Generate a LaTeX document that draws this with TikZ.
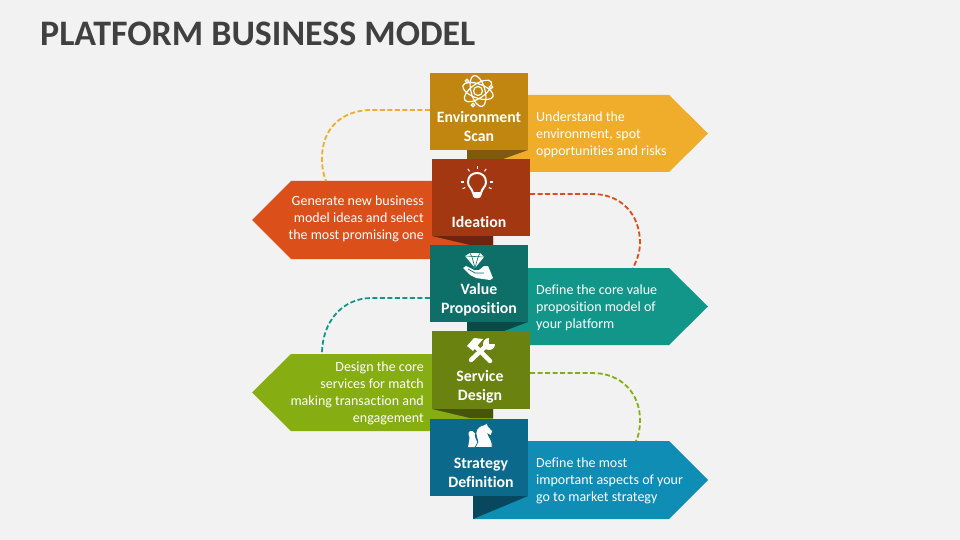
\documentclass[tikz,border=0pt]{standalone}
\usepackage{fontspec}
\setmainfont[Ligatures=NoCommon]{Carlito}
\definecolor{bgcol}{HTML}{F2F2F2}
\definecolor{titlecol}{HTML}{404040}
\definecolor{yelbox}{HTML}{C1860F}
\definecolor{yelarr}{HTML}{F0AC2B}
\definecolor{yelfold}{HTML}{7E5A0B}
\definecolor{redbox}{HTML}{A23712}
\definecolor{redarr}{HTML}{DA4F1A}
\definecolor{redfold}{HTML}{6C2410}
\definecolor{tealbox}{HTML}{0E6E68}
\definecolor{tealarr}{HTML}{13968A}
\definecolor{tealfold}{HTML}{0A4946}
\definecolor{grnbox}{HTML}{6A8210}
\definecolor{grnarr}{HTML}{86AD12}
\definecolor{grnfold}{HTML}{465508}
\definecolor{blubox}{HTML}{0B6A8B}
\definecolor{bluarr}{HTML}{0F8DB5}
\definecolor{blufold}{HTML}{08485E}
\begin{document}
\begin{tikzpicture}[x=1pt, y=-1pt]
  \tikzstyle{box}=[inner sep=0pt, minimum width=98pt, minimum height=77pt]
  \tikzstyle{boxtext}=[text=white, align=center, font=\fontsize{15.8}{19}\selectfont\bfseries]
  \tikzstyle{desc}=[text=white, inner sep=0pt, font=\fontsize{14}{17}\selectfont]
  \tikzstyle{link}=[line width=1.8pt, dash pattern=on 5pt off 2.5pt]
  \tikzstyle{ico}=[draw=white, line width=1.2pt]
  \fill[bgcol] (0,0) rectangle (960,540);
  \useasboundingbox (0,0) rectangle (960,540);
  \node[anchor=west, inner sep=0pt, text=titlecol, font=\fontsize{35.9}{40}\selectfont\bfseries] (title) at (40,34) {PLATFORM BUSINESS MODEL};
  % side arrows
  \fill[yelarr] (467,95) -- (669,95) -- (708,133.5) -- (669,172) -- (467,172) -- cycle;
  \fill[redarr] (493,181) -- (291,181) -- (252,220) -- (291,259) -- (493,259) -- cycle;
  \fill[tealarr] (467,268) -- (669,268) -- (708,306.5) -- (669,345) -- (467,345) -- cycle;
  \fill[grnarr] (493,354) -- (291,354) -- (252,392.5) -- (291,431) -- (493,431) -- cycle;
  \fill[bluarr] (473,441) -- (669,441) -- (708,480) -- (669,519) -- (473,519) -- cycle;
  % folds
  \fill[yelfold] (467,150) -- (528,150) -- (467,172) -- cycle;
  \fill[redfold] (432,236) -- (493,236) -- (493,245) -- (470,245) -- cycle;
  \fill[tealfold] (467,322) -- (528,322) -- (467,345) -- cycle;
  \fill[grnfold] (432,409) -- (493,409) -- (493,418) -- (470,418) -- cycle;
  \fill[blufold] (473,496) -- (528,496) -- (473,519) -- cycle;
  % boxes
  \node[box, fill=yelbox] (envbox) at (479,111.5) {};
  \node[box, fill=redbox] (ideabox) at (481,197.5) {};
  \node[box, fill=tealbox] (valuebox) at (479,283.5) {};
  \node[box, fill=grnbox, minimum height=78pt] (servbox) at (481,370) {};
  \node[box, fill=blubox] (stratbox) at (479,457.5) {};
  \node[boxtext] (envtext) at (479,126.5) {Environment\\Scan};
  \node[boxtext] (ideatext) at (479,222) {Ideation};
  \node[boxtext] (valuetext) at (479,300) {Value\\Proposition};
  \node[boxtext] (servtext) at (480,386.5) {Service\\Design};
  \node[boxtext] (strattext) at (481,473) {Strategy\\Definition};
  % descriptions
  \node[desc, anchor=west, align=left] (envdesc) at (536,134.5) {Understand the\\environment, spot\\opportunities and risks};
  \node[desc, anchor=east, align=right] (ideadesc) at (424,218.5) {Generate new business\\model ideas and select\\the most promising one};
  \node[desc, anchor=west, align=left] (valuedesc) at (536,307.5) {Define the core value\\proposition model of\\your platform};
  \node[desc, anchor=east, align=right] (servdesc) at (424,393) {Design the core\\services for match\\making transaction and\\engagement};
  \node[desc, anchor=west, align=left] (stratdesc) at (536,480.5) {Define the most\\important aspects of your\\go to market strategy};
  % dashed links
  \coordinate (envend) at (326,181);
  \coordinate (ideaend) at (633,268);
  \coordinate (valueend) at (322,354);
  \coordinate (servend) at (636,441);
  \draw[link, yelarr] (envbox.west |- 0,110) -- (372,110) .. controls (340,110) and (322,130) .. (322,158) .. controls (322,166) and (323,174) .. (envend);
  \draw[link, redarr] (ideabox.east |- 0,194) -- (592,194) .. controls (622,194) and (640,215) .. (640,243) .. controls (640,252) and (637,260) .. (ideaend);
  \draw[link, tealarr] (valuebox.west |- 0,298) -- (372,298) .. controls (342,298) and (322,322) .. (valueend);
  \draw[link, grnarr] (servbox.east |- 0,373) -- (592,373) .. controls (622,373) and (640,394) .. (640,420) .. controls (640,428) and (639,435) .. (servend);
  % atom
  \draw[ico, rotate around={35:(478,91)}] (478,91) ellipse (16pt and 7pt);
  \draw[ico, rotate around={-20:(478,91)}] (478,91) ellipse (16pt and 7pt);
  \draw[ico, rotate around={-75:(478,91)}] (478,91) ellipse (16pt and 7pt);
  \draw[ico] (478,91) circle (4.5pt);
  \draw[ico, fill=yelbox] (467,81) circle (1.8pt) (491,87) circle (1.8pt) (473,105) circle (1.8pt);
  % bulb
  \draw[ico, line width=2pt] (473,193) .. controls (472,188) and (468,187) .. (468,182) .. controls (468,170) and (486,170) .. (486,182) .. controls (486,187) and (482,188) .. (481,193) -- cycle;
  \fill[white] (472.5,192) -- (481.5,192) -- (481.5,195) .. controls (481.5,199.5) and (472.5,199.5) .. (472.5,195) -- cycle;
  \foreach \a in {-90,-125,-55,180,0,155,25}
    \draw[white, line width=1pt] (477,182) ++(\a:13) -- ++(\a:3);
  % diamond in hand
  \fill[white] (465,256) -- (470,253) -- (480,253) -- (484,257) -- (475,268) -- cycle;
  \draw[tealbox, line width=.6pt] (465,256) -- (484,257) (470,253) -- (472,257) -- (475,268) (480,253) -- (478,257) -- (475,268);
  \fill[white] (463,268) -- (466,266) -- (474,270) -- (479,270) -- (484,266) -- (488,266) -- (493,278) -- (490,280) -- (476,278) -- (470,275) -- cycle;
  \draw[tealbox, line width=.7pt] (468,269) -- (475,273) -- (484,273);
  % tools
  \draw[white, line width=4.5pt, line cap=round] (474,345) -- (490,361);
  \fill[white] (467,346) -- (474,338) -- (483,339) -- (478,345) -- (473,351) -- cycle;
  \draw[white, line width=4.5pt, line cap=round] (471,360) -- (487,345);
  \fill[white] (489,344) circle (6pt);
  \fill[grnbox] (489,344) -- (489,336) -- (497,336) -- (497,344) -- cycle;
  % knight and pawn
  \fill[white] (468,447) -- (479,447) -- (477,442) -- (475,437) .. controls (477,431) and (468,428) .. (468.5,434.5) -- (469.5,437) -- (469,442) -- cycle;
  \filldraw[fill=white, draw=blubox, line width=.7pt] (475,447.5) -- (492,447.5) -- (492,444) .. controls (492,440) and (489,438) .. (488,434) -- (491,436) -- (492.5,431) -- (488,426) -- (487,423) -- (484,425) .. controls (477,426) and (474,432) .. (477,438) -- (478,442) -- cycle;
\end{tikzpicture}
\end{document}
